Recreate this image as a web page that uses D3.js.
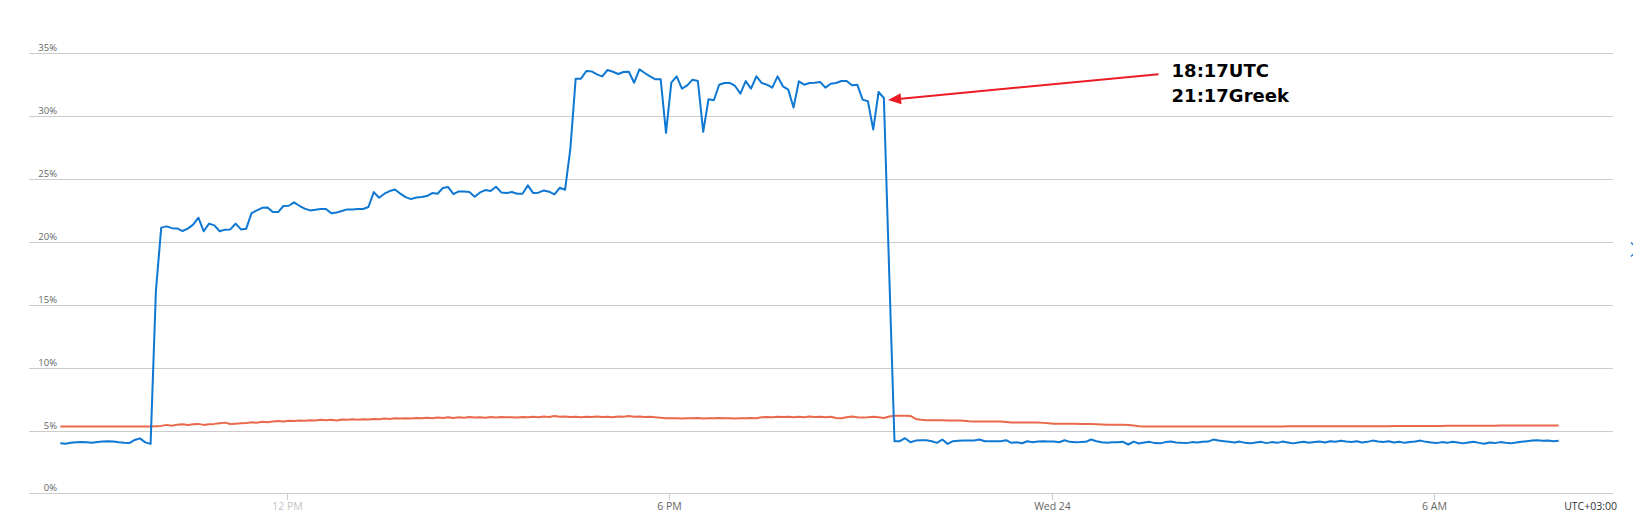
<!DOCTYPE html>
<html>
<head>
<meta charset="utf-8">
<script src="https://cdn.jsdelivr.net/npm/d3@7"></script>
<style>
html,body{margin:0;padding:0;background:#fff;overflow:hidden}
svg{display:block}
</style>
</head>
<body>
<svg id="chart" width="1633" height="518"></svg>
<script>
// ---------- data ----------
const seriesStart = "2019-04-23T08:27:00";   // first sample (local chart time, UTC+03:00)
const sampleMinutes = 5;                      // sampling interval

const blueValues = [
  3.98, 3.95, 4.03, 4.06, 4.09, 4.07, 4.02, 4.08, 4.12, 4.15,
  4.12, 4.06, 4.02, 4.00, 4.25, 4.38, 4.06, 3.94, 16.1, 21.14,
  21.24, 21.1, 21.08, 20.87, 21.06, 21.38, 21.93, 20.85, 21.46, 21.32,
  20.85, 20.98, 21.0, 21.46, 21.0, 21.06, 22.3, 22.51, 22.72, 22.75,
  22.38, 22.38, 22.86, 22.88, 23.15, 22.88, 22.65, 22.51, 22.57, 22.62,
  22.62, 22.28, 22.35, 22.46, 22.59, 22.59, 22.62, 22.62, 22.78, 23.97,
  23.52, 23.84, 24.05, 24.18, 23.84, 23.57, 23.41, 23.54, 23.57, 23.65,
  23.89, 23.84, 24.29, 24.37, 23.81, 24.02, 24.02, 23.97, 23.6, 23.94,
  24.13, 24.05, 24.39, 23.94, 23.89, 23.97, 23.84, 23.84, 24.5, 23.89,
  23.92, 24.1, 24.0, 23.78, 24.31, 24.15, 27.43, 32.99, 32.99, 33.6,
  33.57, 33.33, 33.17, 33.68, 33.54, 33.36, 33.52, 33.54, 32.67, 33.73,
  33.44, 33.17, 32.94, 32.94, 28.68, 32.67, 33.17, 32.2, 32.46, 32.91,
  32.8, 28.76, 31.35, 31.27, 32.51, 32.65, 32.65, 32.41, 31.8, 32.8,
  32.2, 33.17, 32.65, 32.51, 32.28, 33.17, 32.38, 32.12, 30.69, 32.78,
  32.51, 32.65, 32.67, 32.72, 32.28, 32.59, 32.65, 32.8, 32.8, 32.46,
  32.51, 31.32, 31.19, 28.94, 31.93, 31.45, 17.6, 4.15, 4.15, 4.39,
  4.07, 4.2, 4.22, 4.23, 4.15, 4.02, 4.29, 3.94, 4.15, 4.18,
  4.2, 4.2, 4.2, 4.29, 4.15, 4.15, 4.15, 4.15, 4.23, 4.02,
  4.07, 3.99, 4.15, 4.07, 4.12, 4.15, 4.13, 4.12, 4.07, 4.23,
  4.1, 4.07, 4.08, 4.1, 4.29, 4.15, 4.07, 4.02, 4.07, 4.07,
  4.1, 3.89, 4.12, 3.97, 4.05, 4.1, 4.0, 3.98, 4.08, 4.12,
  4.05, 4.02, 4.0, 4.08, 4.05, 4.1, 4.12, 4.28, 4.2, 4.15,
  4.1, 4.05, 4.12, 4.02, 3.98, 4.05, 4.1, 4.0, 4.08, 4.02,
  4.12, 4.05, 3.98, 4.05, 4.1, 4.03, 4.08, 4.12, 4.05, 4.15,
  4.1, 4.18, 4.12, 4.08, 4.15, 4.05, 4.1, 4.2, 4.12, 4.08,
  4.15, 4.05, 4.1, 4.02, 4.08, 4.12, 4.2, 4.1, 4.05, 4.0,
  4.08, 4.02, 4.1, 4.05, 3.98, 4.05, 4.1, 4.02, 3.95, 4.05,
  4.0, 4.08, 4.02, 3.98, 4.05, 4.1, 4.15, 4.2, 4.22, 4.18,
  4.2, 4.15, 4.18
];

const redValues = [
  5.32, 5.32, 5.32, 5.32, 5.32, 5.32, 5.32, 5.32, 5.32, 5.32,
  5.32, 5.32, 5.32, 5.32, 5.32, 5.32, 5.32, 5.33, 5.35, 5.37,
  5.45, 5.38, 5.47, 5.5, 5.45, 5.5, 5.53, 5.45, 5.5, 5.53,
  5.58, 5.63, 5.52, 5.55, 5.58, 5.6, 5.65, 5.62, 5.7, 5.66,
  5.72, 5.75, 5.72, 5.78, 5.75, 5.8, 5.78, 5.82, 5.8, 5.85,
  5.82, 5.85, 5.8, 5.87, 5.85, 5.9, 5.86, 5.9, 5.88, 5.92,
  5.9, 5.95, 5.92, 5.97, 5.95, 5.98, 5.95, 6.0, 5.97, 6.02,
  5.98, 6.03, 6.0, 6.05, 6.0, 6.05, 6.02, 6.07, 6.03, 6.05,
  6.02, 6.07, 6.04, 6.08, 6.05, 6.06, 6.03, 6.08, 6.05, 6.1,
  6.06, 6.12, 6.08, 6.15, 6.1, 6.12, 6.08, 6.1, 6.05, 6.1,
  6.08, 6.12, 6.07, 6.1, 6.06, 6.12, 6.1, 6.15, 6.1, 6.12,
  6.08, 6.1, 6.05, 6.02, 5.98, 5.97, 5.98, 5.96, 5.98, 5.97,
  5.99, 5.96, 5.98, 5.97, 5.99, 5.97, 5.98, 5.96, 5.98, 5.97,
  5.99, 5.97, 6.05, 6.08, 6.06, 6.1, 6.07, 6.1, 6.05, 6.1,
  6.06, 6.12, 6.07, 6.1, 6.05, 6.1, 6.0, 5.98, 6.05, 6.11,
  6.05, 6.03, 6.06, 6.1, 6.05, 6.0, 6.12, 6.17, 6.17, 6.17,
  6.16, 5.92, 5.86, 5.82, 5.82, 5.81, 5.81, 5.8, 5.8, 5.8,
  5.78, 5.74, 5.71, 5.71, 5.71, 5.71, 5.71, 5.71, 5.68, 5.64,
  5.63, 5.63, 5.63, 5.63, 5.63, 5.61, 5.58, 5.55, 5.55, 5.54,
  5.54, 5.54, 5.53, 5.53, 5.53, 5.51, 5.49, 5.47, 5.47, 5.46,
  5.46, 5.45, 5.4, 5.35, 5.33, 5.33, 5.33, 5.33, 5.33, 5.33,
  5.33, 5.33, 5.33, 5.33, 5.33, 5.33, 5.33, 5.33, 5.33, 5.33,
  5.33, 5.33, 5.33, 5.33, 5.33, 5.33, 5.33, 5.33, 5.33, 5.33,
  5.33, 5.34, 5.34, 5.34, 5.34, 5.34, 5.34, 5.34, 5.34, 5.34,
  5.34, 5.35, 5.35, 5.35, 5.35, 5.35, 5.35, 5.35, 5.35, 5.35,
  5.35, 5.37, 5.37, 5.37, 5.37, 5.37, 5.37, 5.37, 5.37, 5.37,
  5.37, 5.38, 5.38, 5.38, 5.38, 5.38, 5.38, 5.38, 5.38, 5.38,
  5.38, 5.4, 5.4, 5.4, 5.4, 5.4, 5.4, 5.4, 5.4, 5.4,
  5.4, 5.4, 5.4
];

const yTickValues = [0, 5, 10, 15, 20, 25, 30, 35];
const yTickLabels = ["0%", "5%", "10%", "15%", "20%", "25%", "30%", "35%"];
const xTickTimes  = ["2019-04-23T12:00:00", "2019-04-23T18:00:00", "2019-04-24T00:00:00", "2019-04-24T06:00:00"];
const xTickLabels = ["12 PM", "6 PM", "Wed 24", "6 AM"];
const xDomain     = ["2019-04-23T07:57:35", "2019-04-24T08:48:06"];
const timezoneLabel = "UTC+03:00";

const annotationLines = ["18:17UTC", "21:17Greek"];
const annotationTip   = {time: "2019-04-23T21:26:00", value: 31.3};
const annotationTail  = {time: "2019-04-24T01:40:30", value: 33.35};

// ---------- drawing ----------
const parse = d3.timeParse("%Y-%m-%dT%H:%M:%S");
const svg = d3.select("#chart");

const x = d3.scaleTime().domain(xDomain.map(parse)).range([29, 1613]);
const y = d3.scaleLinear().domain([0, 35]).range([493.4, 53.4]);

const t0 = parse(seriesStart);
const timeAt = i => d3.timeMinute.offset(t0, i * sampleMinutes);

// gridlines
const grid = svg.append("g");
yTickValues.forEach((v, k) => {
  const gy = Math.round(y(v)) + 0.5;
  grid.append("line")
    .attr("x1", 29).attr("x2", 1613).attr("y1", gy).attr("y2", gy)
    .attr("stroke", "#cccccc").attr("stroke-width", 1);
  grid.append("text")
    .attr("x", 57).attr("y", gy - 2.5)
    .attr("text-anchor", "end")
    .attr("font-family", "'Open Sans', 'Noto Sans', sans-serif")
    .attr("font-size", "9.5px")
    .attr("fill", "#666")
    .text(yTickLabels[k]);
});

// x axis ticks
const xAxisG = svg.append("g");
xTickTimes.forEach((s, k) => {
  const tx = Math.round(x(parse(s))) + 0.5;
  xAxisG.append("line")
    .attr("x1", tx).attr("x2", tx).attr("y1", 494).attr("y2", 500)
    .attr("stroke", "#cccccc").attr("stroke-width", 1);
  xAxisG.append("text")
    .attr("x", tx).attr("y", 510)
    .attr("text-anchor", "middle")
    .attr("font-family", "'Open Sans', 'Noto Sans', sans-serif")
    .attr("font-size", "10.5px")
    .attr("fill", k === 0 ? "#c4c4c4" : "#666")
    .text(xTickLabels[k]);
});
xAxisG.append("text")
  .attr("x", 1617).attr("y", 510)
  .attr("text-anchor", "end")
  .attr("font-family", "'Open Sans', 'Noto Sans', sans-serif")
  .attr("font-size", "10.5px")
  .attr("fill", "#333")
  .text(timezoneLabel);

// lines
const line = d3.line()
  .x((d, i) => x(timeAt(i)))
  .y(d => y(d));

svg.append("path")
  .datum(redValues)
  .attr("d", line)
  .attr("fill", "none")
  .attr("stroke", "#e9694c")
  .attr("stroke-width", 2)
  .attr("stroke-linejoin", "round");

svg.append("path")
  .datum(blueValues)
  .attr("d", line)
  .attr("fill", "none")
  .attr("stroke", "#0f78d3")
  .attr("stroke-width", 2)
  .attr("stroke-linejoin", "round");

// annotation arrow
const tipX = x(parse(annotationTip.time)), tipY = y(annotationTip.value);
const tailX = x(parse(annotationTail.time)), tailY = y(annotationTail.value);
const ang = Math.atan2(tailY - tipY, tailX - tipX);
const headLen = 13, headHalf = 5.5;
const bx = tipX + headLen * Math.cos(ang), by = tipY + headLen * Math.sin(ang);
svg.append("line")
  .attr("x1", tailX).attr("y1", tailY).attr("x2", bx).attr("y2", by)
  .attr("stroke", "#ec1c24").attr("stroke-width", 2);
svg.append("path")
  .attr("d", `M${tipX},${tipY}L${bx - headHalf * Math.sin(ang)},${by + headHalf * Math.cos(ang)}L${bx + headHalf * Math.sin(ang)},${by - headHalf * Math.cos(ang)}Z`)
  .attr("fill", "#ec1c24");

annotationLines.forEach((t, k) => {
  svg.append("text")
    .attr("x", tailX + 13).attr("y", 77 + k * 24.5)
    .attr("font-family", "'DejaVu Sans', Verdana, sans-serif")
    .attr("font-weight", "bold")
    .attr("font-size", "18px")
    .attr("fill", "#000")
    .text(t);
});

// partial chevron at right edge
svg.append("path")
  .attr("d", "M1631,242.5L1638,249.5L1631,256.5")
  .attr("fill", "none")
  .attr("stroke", "#2b7bd6")
  .attr("stroke-width", 1.5);
</script>
</body>
</html>
